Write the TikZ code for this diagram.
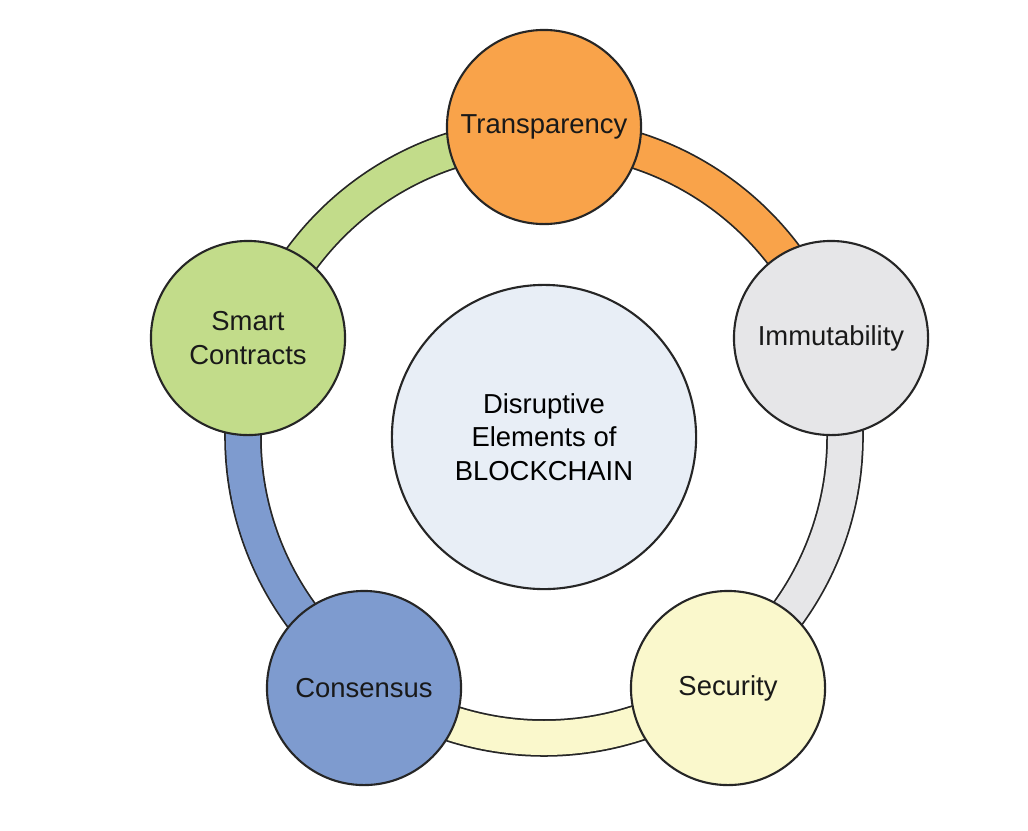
\documentclass[tikz,border=0pt]{standalone}
\usepackage{fontspec}
\setmainfont{Liberation Sans}
\definecolor{cOr}{HTML}{F9A34A}
\definecolor{cGr}{HTML}{E6E6E8}
\definecolor{cYe}{HTML}{FAF8CC}
\definecolor{cBl}{HTML}{7E9BCF}
\definecolor{cGn}{HTML}{C2DC8A}
\definecolor{cCe}{HTML}{E8EEF6}
\begin{document}
\begin{tikzpicture}[x=0.01cm,y=-0.01cm,
  band/.style={draw=black!85,line width=0.5pt,double distance=0.34cm},
  bubble/.style={circle,draw=black!85,line width=0.6pt,minimum size=1.94cm,inner sep=0pt,align=center,font=\fontsize{7.8}{9.6}\selectfont,text=black!90},
  center/.style={circle,draw=black!85,line width=0.6pt,minimum size=3.04cm,fill=cCe,align=center,font=\fontsize{7.8}{9.6}\selectfont}]
\useasboundingbox (0,0) rectangle (1028,830);
\coordinate (O) at (544,437);
\draw[band,double=cOr] (O) ++(-90:301) arc[start angle=-90,end angle=-18,radius=301];
\draw[band,double=cGr] (O) ++(-18:301) arc[start angle=-18,end angle=54,radius=301];
\draw[band,double=cYe] (O) ++(54:301) arc[start angle=54,end angle=126,radius=301];
\draw[band,double=cBl] (O) ++(126:301) arc[start angle=126,end angle=198,radius=301];
\draw[band,double=cGn] (O) ++(198:301) arc[start angle=198,end angle=270,radius=301];
\node[center] (c) at (O) {Disruptive\\Elements of\\BLOCKCHAIN};
\node[bubble,fill=cOr] (t) at (544,127) {Transparency};
\node[bubble,fill=cGr] (i) at (831,338) {Immutability};
\node[bubble,fill=cYe] (s) at (728,688) {Security};
\node[bubble,fill=cBl] (n) at (364,688) {Consensus};
\node[bubble,fill=cGn] (m) at (248,338) {Smart\\Contracts};
\end{tikzpicture}
\end{document}
